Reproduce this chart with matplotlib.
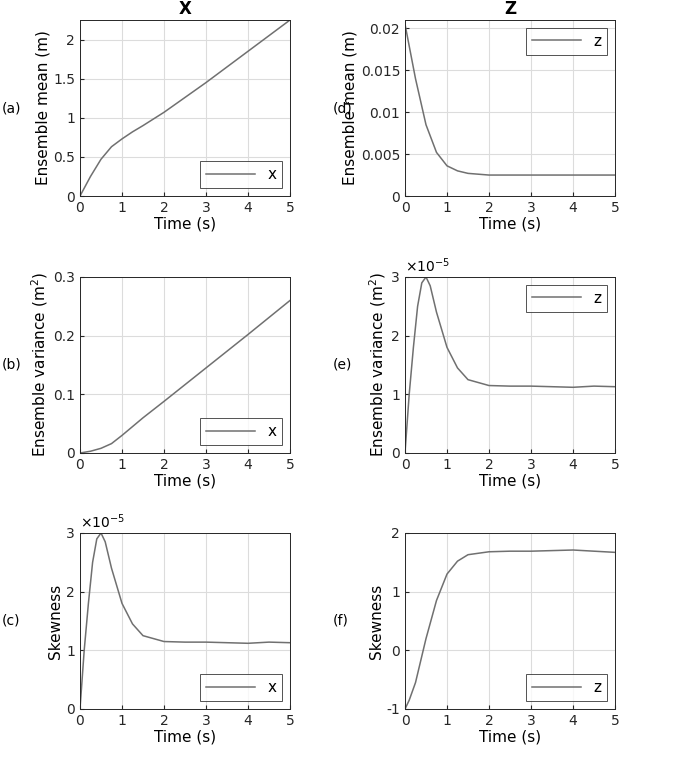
import matplotlib.pyplot as plt
import numpy as np

# values
t_mean_x = [0, 0.25, 0.5, 0.75, 1, 1.25, 1.5, 2, 3, 4, 5]
mean_x = [0, 0.25, 0.47, 0.63, 0.73, 0.82, 0.9, 1.07, 1.45, 1.85, 2.25]

t_var_x = [0, 0.25, 0.5, 0.75, 1, 1.25, 1.5, 2, 3, 4, 5]
var_x = [0, 0.003, 0.008, 0.016, 0.03, 0.045, 0.06, 0.088, 0.145, 0.202, 0.26]

t_peak = [0, 0.1, 0.2, 0.3, 0.4, 0.5, 0.6, 0.75, 1, 1.25, 1.5, 2, 2.5, 3, 3.5, 4, 4.5, 5]
peak = [0, 1.0, 1.8, 2.5, 2.9, 3.0, 2.85, 2.4, 1.8, 1.45, 1.25, 1.15, 1.14, 1.14, 1.13, 1.12, 1.14, 1.13]

t_mean_z = [0, 0.25, 0.5, 0.75, 1, 1.25, 1.5, 2, 3, 4, 5]
mean_z = [0.0205, 0.014, 0.0085, 0.0052, 0.0036, 0.003, 0.0027, 0.0025, 0.0025, 0.0025, 0.0025]

t_skew_z = [0, 0.1, 0.25, 0.5, 0.75, 1, 1.25, 1.5, 2, 2.5, 3, 3.5, 4, 4.5, 5]
skew_z = [-1, -0.85, -0.55, 0.2, 0.85, 1.3, 1.52, 1.63, 1.68, 1.69, 1.69, 1.7, 1.71, 1.69, 1.67]

W, H = 685, 781
fig = plt.figure(figsize=(W / 100, H / 100), dpi=100)
plt.rcParams['font.family'] = 'DejaVu Sans'

lefts = [80, 405]
tag_x = [2, 333]
tops = [20, 277, 533]
aw, ah = 210, 176

panels = [
    (0, 0, t_mean_x, mean_x, 'Ensemble mean (m)', (0, 2.25), [0, 0.5, 1, 1.5, 2], 'x', 'lower right', '(a)', False),
    (1, 0, t_var_x, var_x, 'Ensemble variance (m$^2$)', (0, 0.3), [0, 0.1, 0.2, 0.3], 'x', 'lower right', '(b)', False),
    (2, 0, t_peak, peak, 'Skewness', (0, 3), [0, 1, 2, 3], 'x', 'lower right', '(c)', True),
    (0, 1, t_mean_z, mean_z, 'Ensemble mean (m)', (0, 0.021), [0, 0.005, 0.01, 0.015, 0.02], 'z', 'upper right', '(d)', False),
    (1, 1, t_peak, peak, 'Ensemble variance (m$^2$)', (0, 3), [0, 1, 2, 3], 'z', 'upper right', '(e)', True),
    (2, 1, t_skew_z, skew_z, 'Skewness', (-1, 2), [-1, 0, 1, 2], 'z', 'lower right', '(f)', False),
]

for r, c, t, y, ylab, ylim, yt, name, loc, tag, sci in panels:
    ax = fig.add_axes([lefts[c] / W, 1 - (tops[r] + ah) / H, aw / W, ah / H])
    ax.plot(t, y, color='#707070', lw=1.1, label=name)
    ax.set_xlim(0, 5)
    ax.set_ylim(*ylim)
    ax.set_yticks(yt)
    ax.set_yticklabels([('%g' % v) for v in yt])
    ax.set_xticks(range(6))
    ax.grid(True, color='#dcdcdc', lw=0.8)
    ax.tick_params(labelsize=10, direction='in', length=3, colors='#262626')
    for s in ax.spines.values():
        s.set_color('#262626')
        s.set_linewidth(0.7)
    ax.set_xlabel('Time (s)', fontsize=11, labelpad=1)
    ax.set_ylabel(ylab, fontsize=11, labelpad=2)
    leg = ax.legend(loc=loc, fontsize=11, fancybox=False, handlelength=3.2,
                    borderaxespad=0.5)
    leg.get_frame().set_edgecolor('#262626')
    leg.get_frame().set_linewidth(0.7)
    if sci:
        ax.text(0.0, 1.01, r'$\times10^{-5}$', transform=ax.transAxes, fontsize=10, va='bottom')
    fig.text(tag_x[c] / W, 1 - (tops[r] + ah / 2) / H, tag, fontsize=10, va='center')
    if r == 0:
        ax.set_title('X' if c == 0 else 'Z', fontsize=12, fontweight='bold', pad=4)

fig.savefig('out.png', dpi=100)
